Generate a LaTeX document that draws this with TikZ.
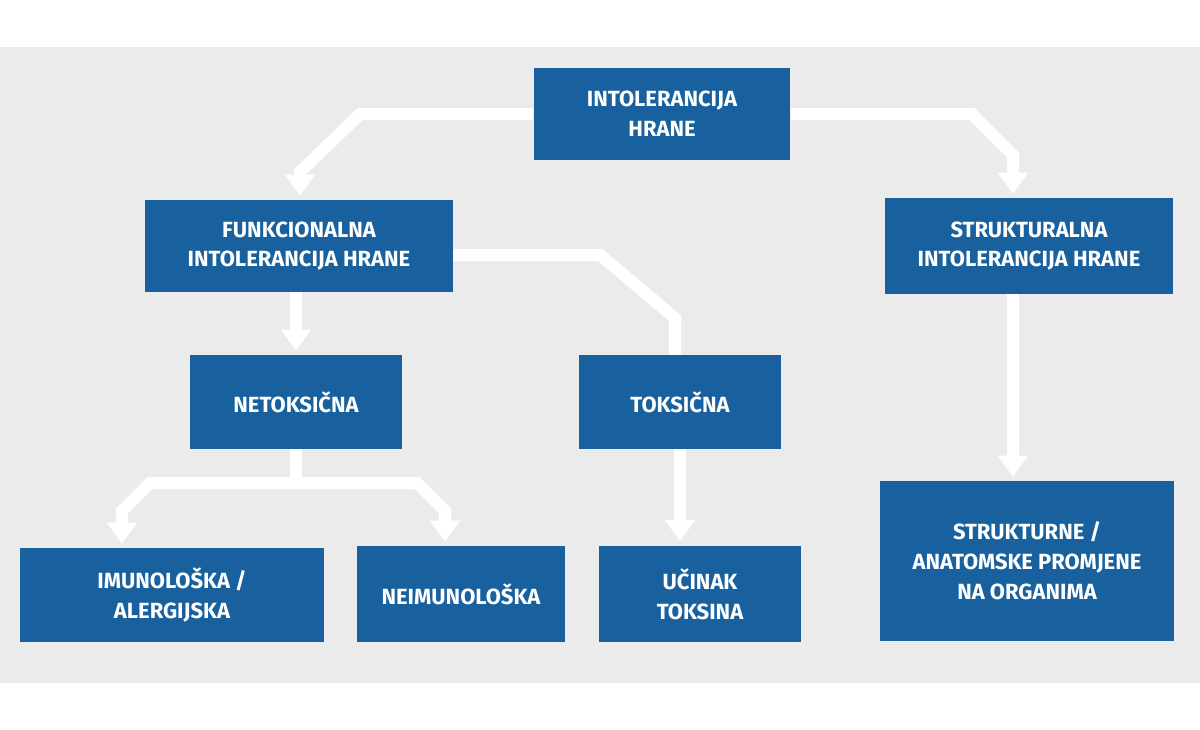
\documentclass[tikz,border=0pt]{standalone}
\usepackage{fontspec}
\setmainfont{Fira Sans}
\usetikzlibrary{arrows.meta}
\definecolor{boxblue}{rgb}{0.10,0.38,0.62}
\definecolor{bggray}{rgb}{0.922,0.922,0.922}
\tikzset{
  box/.style={fill=boxblue,text=white,align=center,inner sep=0pt,
    font=\fontsize{12.5}{17}\selectfont\bfseries},
  arr/.style={draw=white,line width=0.24cm,line join=miter,
    -{Triangle[width=0.58cm,length=0.42cm]},shorten >=0.08cm},
  link/.style={draw=white,line width=0.24cm,line join=miter}
}
\begin{document}
\begin{tikzpicture}[x=0.02cm,y=-0.02cm]
\useasboundingbox (0,0) rectangle (1200,730);
\fill[bggray] (0,47) rectangle (1200,683);
% boxes
\node[box,minimum width=5.14cm,minimum height=1.84cm] (top) at (662,114) {INTOLERANCIJA\\HRANE};
\node[box,minimum width=6.16cm,minimum height=1.84cm] (funk) at (299,246) {FUNKCIONALNA\\INTOLERANCIJA HRANE};
\node[box,minimum width=5.78cm,minimum height=1.92cm] (strukt) at (1029,246) {STRUKTURALNA\\INTOLERANCIJA HRANE};
\node[box,minimum width=4.26cm,minimum height=1.88cm] (netok) at (296,402) {NETOKSIČNA};
\node[box,minimum width=4.06cm,minimum height=1.88cm] (toks) at (680,402) {TOKSIČNA};
\node[box,minimum width=6.10cm,minimum height=1.88cm] (imun) at (172,595) {IMUNOLOŠKA /\\ALERGIJSKA};
\node[box,minimum width=4.18cm,minimum height=1.92cm] (neimun) at (461,594) {NEIMUNOLOŠKA};
\node[box,minimum width=4.04cm,minimum height=1.94cm] (ucinak) at (700,594) {UČINAK\\TOKSINA};
\node[box,minimum width=5.88cm,minimum height=3.20cm] (anat) at (1027,561) {STRUKTURNE /\\ANATOMSKE PROMJENE\\NA ORGANIMA};
% connectors
\coordinate (split) at (296,483);
\draw[arr] (top.west) -- (360,114) -- (300,172) -- (funk.north -| 300,0);
\draw[arr] (top.east) -- (972,114) -- (1013,155) -- (strukt.north -| 1013,0);
\draw[link] (funk.east |- 0,255) -- (600,255) -- (675,318) -- (toks.north -| 675,0);
\draw[arr] (toks.south) -- (ucinak.north -| toks.south);
\draw[arr] (funk.south -| 296,0) -- (netok.north);
\draw[arr] (strukt.south -| 1013,0) -- (anat.north -| 1013,0);
\draw[link] (netok.south) -- (split);
\draw[arr] (split) -- (150,483) -- (122,511) -- (imun.north -| 122,0);
\draw[arr] (split) -- (417,483) -- (445,511) -- (neimun.north -| 445,0);
\end{tikzpicture}
\end{document}
